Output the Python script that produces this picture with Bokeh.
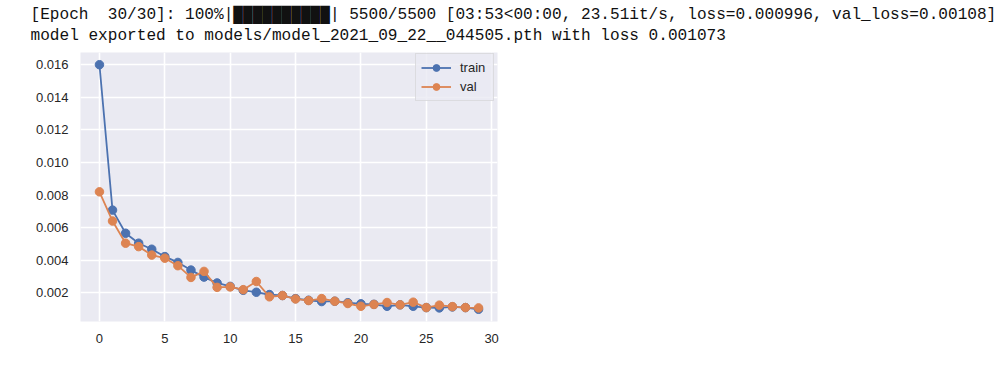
from bokeh.plotting import figure
from bokeh.models import Range1d, FixedTicker, Title, Legend, LegendItem, PrintfTickFormatter
from bokeh.embed import file_html
from bokeh.resources import INLINE

epochs = list(range(30))
train = [0.0160, 0.00708, 0.00566, 0.00505, 0.00468, 0.00423, 0.00387, 0.00340, 0.00297, 0.00261,
         0.00240, 0.00216, 0.00204, 0.00190, 0.00184, 0.00165, 0.00155, 0.00147, 0.00149, 0.00140,
         0.00133, 0.00130, 0.00118, 0.00127, 0.00118, 0.00110, 0.00108, 0.00114, 0.00110, 0.000996]
val = [0.00820, 0.00641, 0.00505, 0.00484, 0.00432, 0.00413, 0.00367, 0.00295, 0.00332, 0.00234,
       0.00237, 0.00220, 0.00270, 0.00176, 0.00184, 0.00163, 0.00153, 0.00165, 0.00149, 0.00135,
       0.00118, 0.00129, 0.00141, 0.00127, 0.00143, 0.00110, 0.00125, 0.00116, 0.00110, 0.00108]
y_ticks = [0.002, 0.004, 0.006, 0.008, 0.010, 0.012, 0.014, 0.016]
x_ticks = [0, 5, 10, 15, 20, 25, 30]
header_line1 = "[Epoch \u00a030/30]: 100%|\u2588\u2588\u2588\u2588\u2588\u2588\u2588\u2588\u2588\u2588| 5500/5500 [03:53<00:00, 23.51it/s, loss=0.000996, val_loss=0.00108]"
header_line2 = "model exported to models/model_2021_09_22__044505.pth with loss 0.001073"

BLUE = "#4C72B0"
ORANGE = "#DD8452"
TEXT = "#262626"

all_y = train + val
ymin, ymax = min(all_y), max(all_y)
ypad = 0.05 * (ymax - ymin)
xpad = 0.05 * (epochs[-1] - epochs[0])

p = figure(width=1007, height=365, output_backend="svg", toolbar_location=None,
           x_range=Range1d(epochs[0] - xpad, epochs[-1] + xpad),
           y_range=Range1d(ymin - ypad, ymax + ypad),
           min_border_left=80, min_border_right=510, min_border_top=52, min_border_bottom=44)
p.background_fill_color = "#EAEAF2"
p.border_fill_color = "white"
p.outline_line_color = None

for ax in (p.xaxis, p.yaxis):
    ax.axis_line_color = None
    ax.major_tick_line_color = None
    ax.minor_tick_line_color = None
    ax.major_tick_in = 0
    ax.major_tick_out = 0
    ax.major_label_text_font = "Liberation Sans"
    ax.major_label_text_font_size = "13px"
    ax.major_label_text_color = TEXT
    ax.major_label_standoff = 12

p.xaxis.ticker = FixedTicker(ticks=x_ticks)
p.yaxis.ticker = FixedTicker(ticks=y_ticks)
p.yaxis.formatter = PrintfTickFormatter(format="%.3f")
p.xaxis.formatter = PrintfTickFormatter(format="%d")

p.grid.grid_line_color = "white"
p.grid.grid_line_width = 1.6

l1 = p.line(epochs, train, line_color=BLUE, line_width=1.8)
c1 = p.scatter(epochs, train, size=8.5, fill_color=BLUE, line_color=BLUE)
l2 = p.line(epochs, val, line_color=ORANGE, line_width=1.8)
c2 = p.scatter(epochs, val, size=8.5, fill_color=ORANGE, line_color=ORANGE)

legend = Legend(items=[LegendItem(label="train", renderers=[l1, c1]),
                       LegendItem(label="val", renderers=[l2, c2])],
                location=(335, 220))
legend.border_line_color = "#cccccc"
legend.border_line_width = 1
legend.background_fill_color = "#EAEAF2"
legend.background_fill_alpha = 0.8
legend.label_text_font = "Liberation Sans"
legend.label_text_font_size = "13px"
legend.label_text_color = TEXT
legend.glyph_width = 30
legend.glyph_height = 17
legend.label_height = 17
legend.label_width = 28
legend.spacing = 2
legend.padding = 5
legend.margin = 0
legend.label_standoff = 9
p.add_layout(legend)

p.add_layout(Title(text=header_line1 + "\n" + header_line2, align="left", offset=-50, standoff=10,
                   vertical_align="top",
                   text_font="Liberation Mono", text_font_size="16.1px", text_line_height=1.2,
                   text_font_style="normal", text_color="#111111"), "above")

open("out.html", "w").write(file_html(p, INLINE))
